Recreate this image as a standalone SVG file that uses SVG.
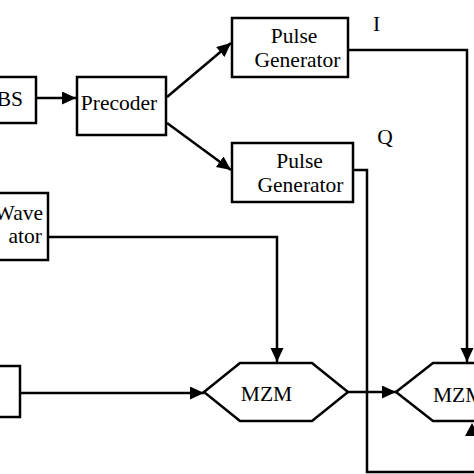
<svg xmlns="http://www.w3.org/2000/svg" width="474" height="474" viewBox="0 0 474 474">
<style>
.box{fill:#fff;stroke:#000;stroke-width:2.5}
.ln{fill:none;stroke:#000;stroke-width:2.5}
.t{font-family:"Liberation Serif","Times New Roman",serif;font-size:21.5px;fill:#000}
</style>
<defs>
<marker id="ah" markerUnits="userSpaceOnUse" markerWidth="16" markerHeight="14" refX="14" refY="6.5" orient="auto">
<path d="M0,0 L14,6.5 L0,13 z" fill="#000"/>
</marker>
</defs>
<rect width="474" height="474" fill="#fff"/>
<g id="connectors">
<line class="ln" x1="36" y1="98" x2="76" y2="98" marker-end="url(#ah)"/>
<line class="ln" x1="167" y1="97" x2="231" y2="43" marker-end="url(#ah)"/>
<line class="ln" x1="167" y1="123" x2="231" y2="170" marker-end="url(#ah)"/>
<polyline class="ln" points="48,237 277,237 277,362" marker-end="url(#ah)"/>
<polyline class="ln" points="348,50 467,50 467,362" marker-end="url(#ah)"/>
<polyline class="ln" points="353,170 367,170 367,472 476,472"/>
<line class="ln" x1="20" y1="393" x2="204" y2="393" marker-end="url(#ah)"/>
<line class="ln" x1="348" y1="392" x2="396" y2="392" marker-end="url(#ah)"/>
<path d="M472,423 L479,436 L465,436 z" fill="#000"/>
</g>
<g id="prbs">
<rect class="box" x="-40" y="77" width="76" height="46"/>
<text class="t" x="23" y="106" text-anchor="end">BS</text>
</g>
<g id="precoder">
<rect class="box" x="77" y="77" width="89" height="58"/>
<text class="t" x="119" y="110" text-anchor="middle">Precoder</text>
</g>
<g id="pulse-i">
<rect class="box" x="232" y="18" width="116" height="59"/>
<text class="t" x="294" y="43" text-anchor="middle">Pulse</text>
<text class="t" x="297.5" y="67" text-anchor="middle">Generator</text>
</g>
<g id="pulse-q">
<rect class="box" x="232" y="143" width="121" height="59"/>
<text class="t" x="299.5" y="168" text-anchor="middle">Pulse</text>
<text class="t" x="300.5" y="192" text-anchor="middle">Generator</text>
</g>
<g id="wave-gen">
<rect class="box" x="-60" y="193" width="108" height="67"/>
<text class="t" x="43" y="220" text-anchor="end">Wave</text>
<text class="t" x="42" y="243" text-anchor="end">ator</text>
</g>
<g id="laser">
<rect class="box" x="-40" y="366" width="60" height="51"/>
</g>
<g id="mzm1">
<polygon class="box" points="204,392 240,363 312,363 348,392 312,421 240,421"/>
<text class="t" x="266.5" y="401" text-anchor="middle">MZM</text>
</g>
<g id="mzm2">
<polygon class="box" points="396,392 433,363 505,363 541,392 505,421 433,421"/>
<text class="t" x="433" y="402">MZM</text>
</g>
<text class="t" x="373" y="31">I</text>
<text class="t" x="385" y="144" text-anchor="middle">Q</text>
</svg>
